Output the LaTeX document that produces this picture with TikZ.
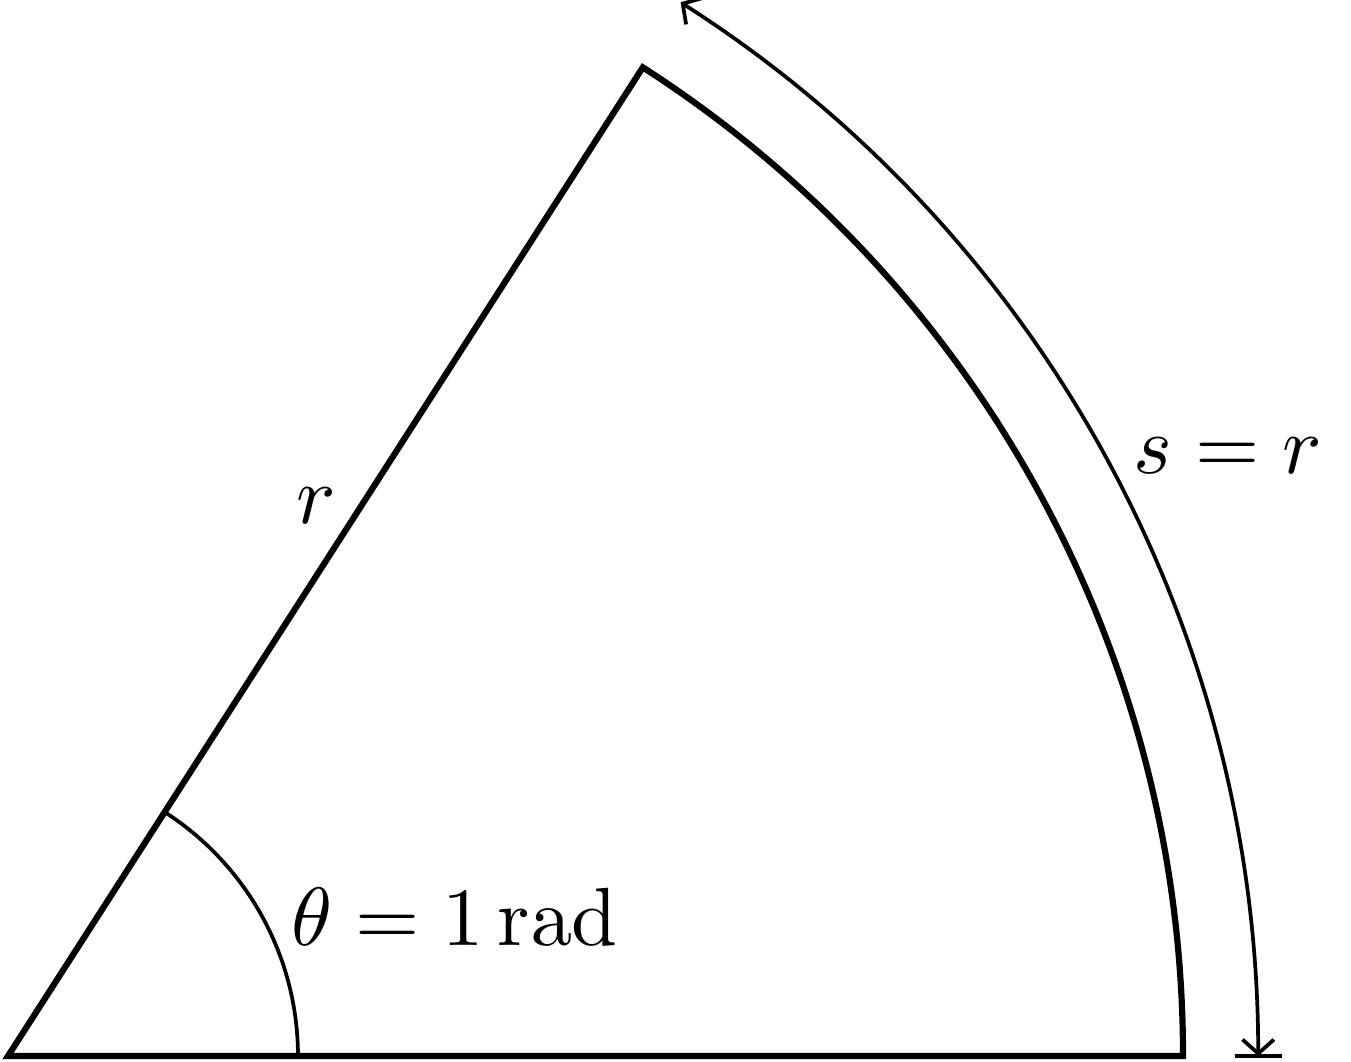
\documentclass[tikz,border=0pt]{standalone}
\usetikzlibrary{arrows.meta}
\begin{document}
\begin{tikzpicture}[
  sector/.style={line width=0.75pt},
  thinline/.style={line width=0.45pt},
  lbl/.style={inner sep=0pt, anchor=base},
  >={Straight Barb[length=1.7pt,width=3.8pt]}
]
\useasboundingbox (-0.034,-0.021) rectangle (5.715,4.494);
\coordinate (O) at (0,0);
\coordinate (A) at (5,0);
\coordinate (B) at (57.2958:5);
% sector
\draw[sector] (O) -- (A) arc[start angle=0, end angle=57.2958, radius=5] -- cycle;
% angle arc
\draw[thinline] (1.234,0) arc[start angle=0, end angle=57.2958, radius=1.234];
% arc-length arrow
\coordinate (P) at (5.32,0);
\draw[thinline,<->] (57.45:5.32) arc[start angle=57.45, end angle=0, radius=5.32];
\draw[thinline] ([xshift=-0.1cm]P) -- ([xshift=0.1cm]P);
% labels
\node[lbl] (lr) at (1.311,2.268) {$r$};
\node[lbl] (lth) at (1.90,0.472) {$\theta = 1\,\mathrm{rad}$};
\node[lbl] (ls) at (5.19,2.48) {$s = r$};
\end{tikzpicture}
\end{document}
